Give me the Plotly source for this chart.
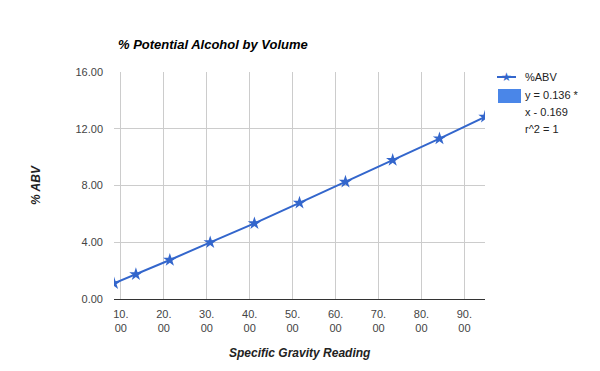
import plotly.graph_objects as go

# Data
sg_reading = [8.4, 13.5, 21.4, 30.8, 41.1, 51.6, 62.3, 73.3, 84.2, 94.8]
abv = [1.10, 1.74, 2.75, 3.99, 5.33, 6.78, 8.26, 9.79, 11.31, 12.84]
x_ticks = [10, 20, 30, 40, 50, 60, 70, 80, 90]
x_tick_labels = ["10.<br>00", "20.<br>00", "30.<br>00", "40.<br>00", "50.<br>00",
                 "60.<br>00", "70.<br>00", "80.<br>00", "90.<br>00"]
y_ticks = [0, 4, 8, 12, 16]
y_tick_labels = ["0.00", "4.00", "8.00", "12.00", "16.00"]
series_name = "%ABV"
trend_label = ["y = 0.136 *", "x - 0.169", "r^2 = 1"]

W, H = 600, 371
L, R, T, B = 114, 115, 72, 72
pw, ph = W - L - R, H - T - B

def px(x):
    return (x - L) / pw

def py(y):
    return (H - B - y) / ph

FONT = "Liberation Sans, Arial, sans-serif"
LINE_C = "#3366cc"
TREND_C = "#4a86e8"

fig = go.Figure()
fig.add_trace(go.Scatter(x=sg_reading, y=abv, mode="lines+markers", name=series_name,
                         line=dict(color=LINE_C, width=2),
                         marker=dict(symbol="star", size=10, color=LINE_C,
                                     line=dict(width=0)),
                         showlegend=False))

annotations = [
    dict(text="<b><i>% Potential Alcohol by Volume</i></b>", x=px(116), y=py(45),
         xref="paper", yref="paper", xanchor="left", yanchor="middle",
         showarrow=False, font=dict(family=FONT, size=13, color="#000")),
    dict(text="<b><i>Specific Gravity Reading</i></b>", x=px(300), y=py(353),
         xref="paper", yref="paper", xanchor="center", yanchor="middle",
         showarrow=False, font=dict(family=FONT, size=12, color="#222")),
    dict(text="<b><i>% ABV</i></b>", x=px(36), y=py(185), textangle=-90,
         xref="paper", yref="paper", xanchor="center", yanchor="middle",
         showarrow=False, font=dict(family=FONT, size=12, color="#222")),
    # legend
    dict(text="★", x=px(506.5), y=py(77), xref="paper", yref="paper",
         xanchor="center", yanchor="middle", showarrow=False,
         font=dict(family="DejaVu Sans", size=12, color=LINE_C)),
    dict(text=series_name, x=px(523), y=py(77), xref="paper", yref="paper",
         xanchor="left", yanchor="middle", showarrow=False,
         font=dict(family=FONT, size=11, color="#222")),
]
for i, t in enumerate(trend_label):
    annotations.append(dict(text=t, x=px(523), y=py(95 + 17 * i), xref="paper", yref="paper",
                            xanchor="left", yanchor="middle", showarrow=False,
                            font=dict(family=FONT, size=11, color="#222")))

shapes = [
    dict(type="line", xref="paper", yref="paper", x0=px(497), x1=px(516),
         y0=py(77), y1=py(77), line=dict(color=LINE_C, width=2)),
    dict(type="rect", xref="paper", yref="paper", x0=px(498), x1=px(521),
         y0=py(103), y1=py(89), fillcolor=TREND_C, line=dict(width=0)),
]

fig.update_layout(
    width=W, height=H,
    margin=dict(l=L, r=R, t=T, b=B),
    paper_bgcolor="white", plot_bgcolor="white",
    showlegend=False,
    annotations=annotations, shapes=shapes,
    font=dict(family=FONT, size=11, color="#444"),
    xaxis=dict(range=[min(sg_reading), max(sg_reading)], tickvals=x_ticks,
               ticktext=x_tick_labels, showgrid=True, gridcolor="#cccccc",
               gridwidth=1, zeroline=False, showline=False, ticks="",
               ticklabelstandoff=7,
               tickfont=dict(family=FONT, size=11, color="#444")),
    yaxis=dict(range=[0, 16], tickvals=y_ticks, ticktext=y_tick_labels,
               showgrid=True, gridcolor="#cccccc", gridwidth=1,
               zeroline=True, zerolinecolor="#333333", zerolinewidth=1,
               showline=False, ticks="", ticklabelstandoff=10,
               tickfont=dict(family=FONT, size=11, color="#444")),
)

fig.write_html("out.html", config={"displayModeBar": False},
               post_script="document.body.style.margin='0';document.body.style.overflow='hidden';")
